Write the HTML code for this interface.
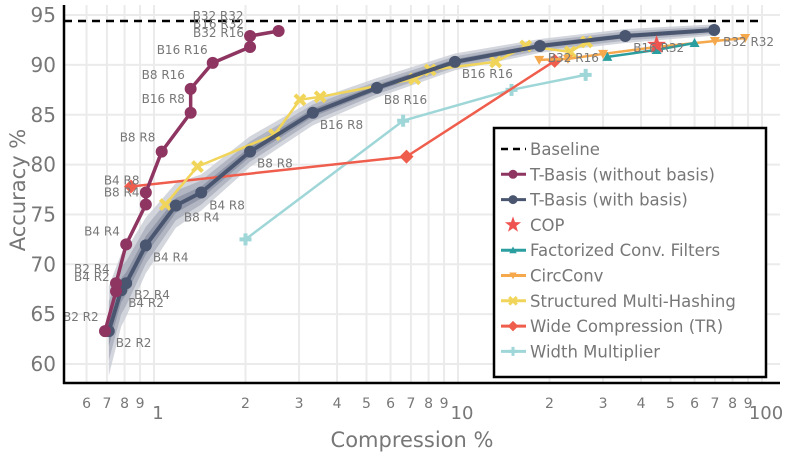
<!DOCTYPE html>
<html><head><meta charset="utf-8"><style>
html,body{margin:0;padding:0;background:#fff;}
svg{display:block;font-family:"DejaVu Sans","Liberation Sans",sans-serif;}
</style></head><body>
<svg id="chart" width="791" height="458" viewBox="0 0 791 458">
<g id="grid"></g>
<g id="bands"></g>
<g id="series"></g>
<g id="labels"></g>
<g id="axes"></g>
<g id="legend"></g>
</svg>
<script>
const yTicks=[60,65,70,75,80,85,90,95];
const xMinorTicks=[0.6,0.7,0.8,0.9,2,3,4,5,6,7,8,9,20,30,40,50,60,70,80,90];
const xMajorTicks=[1,10,100];
const baseline=94.4;
const noBasisX=[0.69,0.75,0.75,0.81,0.94,0.94,1.06,1.32,1.32,1.56,2.07,2.07,2.57];
const noBasisY=[63.3,67.3,68.1,72.0,76.0,77.2,81.3,85.2,87.6,90.2,91.8,92.9,93.4];
const noBasisLabels=["B2 R2","B4 R2","B2 R4","B4 R4","B8 R4","B4 R8","B8 R8","B16 R8","B8 R16","B16 R16","B32 R16","B16 R32","B32 R32"];
const basisX=[0.71,0.78,0.81,0.94,1.18,1.43,2.07,3.33,5.41,9.77,18.6,35.5,69.6];
const basisY=[63.3,67.4,68.1,71.9,75.9,77.2,81.3,85.2,87.7,90.3,91.9,92.9,93.5];
const basisLabels=["B2 R2","B4 R2","B2 R4","B4 R4","B8 R4","B4 R8","B8 R8","B16 R8","B8 R16","B16 R16","B32 R16","B16 R32","B32 R32"];
const basisBand=[3.2,2.6,2.4,2.0,1.6,1.3,1.1,0.9,0.7,0.6,0.5,0.5,0.4];
const copX=[45];const copY=[92.0];
const fcfX=[31,45,60];const fcfY=[90.8,91.5,92.2];
const circX=[18.5,23,30,45,70,88];const circY=[90.5,90.6,91.1,91.8,92.4,92.7];
const smhX=[1.09,1.39,2.49,3.02,3.52,7.2,8.1,13.3,16.7,23.4,26.5];
const smhY=[76.0,79.8,83.0,86.5,86.8,88.6,89.5,90.3,91.9,91.3,92.3];
const wctX=[0.84,6.77,20.8];const wctY=[77.8,80.8,90.4];
const wmX=[2.0,6.6,15.0,26.3];const wmY=[72.5,84.4,87.5,89.0];

const NS="http://www.w3.org/2000/svg";
const X0=64,X1=780,YB=383,YT=5;
function xs(v){return 154+304*Math.log10(v);}
function ys(v){return 364-(v-60)*9.97;}
function mk(tag,attrs,parent){const e=document.createElementNS(NS,tag);for(const k in attrs)e.setAttribute(k,attrs[k]);parent.appendChild(e);return e;}
const grid=document.getElementById('grid'),axes=document.getElementById('axes'),series=document.getElementById('series'),labels=document.getElementById('labels'),bands=document.getElementById('bands'),legend=document.getElementById('legend');

yTicks.forEach(v=>{const l=mk('line',{x1:X0,x2:X1,y1:ys(v),y2:ys(v),stroke:'#ebebeb','stroke-width':2},grid);

const t=mk('text',{x:56,y:ys(v)+7,'text-anchor':'end','font-size':20,fill:'#777'},axes);t.textContent=v;
});
xMinorTicks.concat(xMajorTicks).forEach(v=>{const l=mk('line',{x1:xs(v),x2:xs(v),y1:YT,y2:YB,stroke:'#ebebeb','stroke-width':2},grid);
});
xMinorTicks.forEach(v=>{const lab=String(v).replace(/^0\./,'').replace(/0$/,'');const t=mk('text',{x:xs(v),y:408,'text-anchor':'middle','font-size':14,fill:'#777'},axes);t.textContent=lab;
});
xMajorTicks.forEach(v=>{const t=mk('text',{x:xs(v)+4,y:419,'text-anchor':'middle','font-size':18,fill:'#777'},axes);t.textContent=v;
});
let a=mk('line',{x1:X0,x2:X0,y1:YT,y2:YB+1,stroke:'#000','stroke-width':2.5},axes);
a=mk('line',{x1:X0-1,x2:X1,y1:YB,y2:YB,stroke:'#000','stroke-width':2.5},axes);
let t=mk('text',{x:0,y:0,transform:'translate(25,190) rotate(-90)','text-anchor':'middle','font-size':21,fill:'#777'},axes);t.textContent='Accuracy %';
t=mk('text',{x:412,y:447,'text-anchor':'middle','font-size':21,fill:'#777'},axes);t.textContent='Compression %';

let bl=mk('line',{x1:X0,x2:758,y1:ys(baseline),y2:ys(baseline),stroke:'#000','stroke-width':2.5,'stroke-dasharray':'8,6'},series);


[[1,'#c9ccd4'],[0.66,'#a9aebb'],[0.33,'#8a91a2']].forEach(([f,c])=>{
 let up=basisX.map((x,i)=>xs(x)+','+ys(basisY[i]+basisBand[i]*f*1.4));
 let dn=basisX.map((x,i)=>xs(x)+','+ys(basisY[i]-basisBand[i]*f*1.4)).reverse();
 const p=mk('polygon',{points:up.concat(dn).join(' '),fill:c,opacity:0.8},bands);
 });

function marker(type,cx,cy,color,g,s){
 s=s||1;let e;
 if(type==='circle')e=mk('circle',{cx,cy,r:6*s,fill:color},g);
 else if(type==='star'){let pts=[];for(let i=0;i<10;i++){const r=i%2?4*s:10*s;const ang=-Math.PI/2+i*Math.PI/5;pts.push((cx+r*Math.cos(ang))+','+(cy+r*Math.sin(ang)));}e=mk('polygon',{points:pts.join(' '),fill:color},g);}
 else if(type==='up')e=mk('polygon',{points:`${cx},${cy-5*s} ${cx+5*s},${cy+4*s} ${cx-5*s},${cy+4*s}`,fill:color},g);
 else if(type==='down')e=mk('polygon',{points:`${cx},${cy+5*s} ${cx+5*s},${cy-4*s} ${cx-5*s},${cy-4*s}`,fill:color},g);
 else if(type==='x'){e=mk('path',{d:`M${cx-5*s},${cy-5*s}L${cx+5*s},${cy+5*s}M${cx+5*s},${cy-5*s}L${cx-5*s},${cy+5*s}`,stroke:color,'stroke-width':4*s},g);}
 else if(type==='diamond')e=mk('polygon',{points:`${cx},${cy-7*s} ${cx+7*s},${cy} ${cx},${cy+7*s} ${cx-7*s},${cy}`,fill:color},g);
 else if(type==='plus')e=mk('path',{d:`M${cx-6*s},${cy}L${cx+6*s},${cy}M${cx},${cy-6*s}L${cx},${cy+6*s}`,stroke:color,'stroke-width':4*s},g);
 
}
function drawSeries(name,X,Y,color,width,type,line){
 const g=mk('g',{},series);
 if(line&&X.length>1){const p=mk('polyline',{points:X.map((x,i)=>xs(x)+','+ys(Y[i])).join(' '),fill:'none',stroke:color,'stroke-width':width,'stroke-linejoin':'round'},g);
  }
 X.forEach((x,i)=>marker(type,xs(x),ys(Y[i]),color,g));
}
drawSeries('width-multiplier',wmX,wmY,'#9fd6d8',2.5,'plus',true);
drawSeries('wide-compression-tr',wctX,wctY,'#ef5d4c',2.5,'diamond',true);
drawSeries('structured-multi-hashing',smhX,smhY,'#f1d55a',2.5,'x',true);
drawSeries('circconv',circX,circY,'#f5a84c',2.5,'down',true);
drawSeries('factorized-conv-filters',fcfX,fcfY,'#2b9ea0',2.5,'up',true);
drawSeries('t-basis-with-basis',basisX,basisY,'#4a5670',4,'circle',true);
drawSeries('t-basis-without-basis',noBasisX,noBasisY,'#8e3561',3.5,'circle',true);
drawSeries('cop',copX,copY,'#ef5350',0,'star',false);

const nbOff=[[-42,-14],[-42,-14],[-42,-14],[-42,-13],[-42,-12],[-42,-12],[-42,-14],[-49,-14],[-49,-14],[-56,-13],[-57,-14],[-57,-12],[-86,-15]];
noBasisX.forEach((x,i)=>{const tt=mk('text',{x:xs(x)+nbOff[i][0],y:ys(noBasisY[i])+nbOff[i][1]+4,'font-size':12,fill:'#777'},labels);tt.textContent=noBasisLabels[i];
 });
const bOff=[[7,12],[7,13],[8,12],[7,12],[8,12],[8,13],[7,12],[7,12],[7,12],[7,12],[8,12],[8,12],[9,12]];
basisX.forEach((x,i)=>{const tt=mk('text',{x:xs(x)+bOff[i][0],y:ys(basisY[i])+bOff[i][1]+4,'font-size':12,fill:'#777'},labels);tt.textContent=basisLabels[i];
 });

const lb=mk('rect',{x:494,y:128,width:272,height:249,fill:'#fff',stroke:'#000','stroke-width':2.5},legend);

const leg=[['Baseline','#000','dash'],['T-Basis (without basis)','#8e3561','circle'],['T-Basis (with basis)','#4a5670','circle'],['COP','#ef5350','star'],['Factorized Conv. Filters','#2b9ea0','up'],['CircConv','#f5a84c','down'],['Structured Multi-Hashing','#f1d55a','x'],['Wide Compression (TR)','#ef5d4c','diamond'],['Width Multiplier','#9fd6d8','plus']];
leg.forEach((e,i)=>{const y=149+i*25.3;const g=mk('g',{},legend);
 
 if(e[2]==='dash'){mk('line',{x1:501,x2:526,y1:y,y2:y,stroke:'#000','stroke-width':2.5,'stroke-dasharray':'7,5'},g);}
 else{ if(e[2]!=='star')mk('line',{x1:501,x2:526,y1:y,y2:y,stroke:e[1],'stroke-width':3},g);
  marker(e[2],513,y,e[1],g,e[2]==='star'?0.85:0.75);}
 const tx=mk('text',{x:530,y:y+6,'font-size':16.5,fill:'#777'},g);tx.textContent=e[0];
 });
</script>
</body></html>
